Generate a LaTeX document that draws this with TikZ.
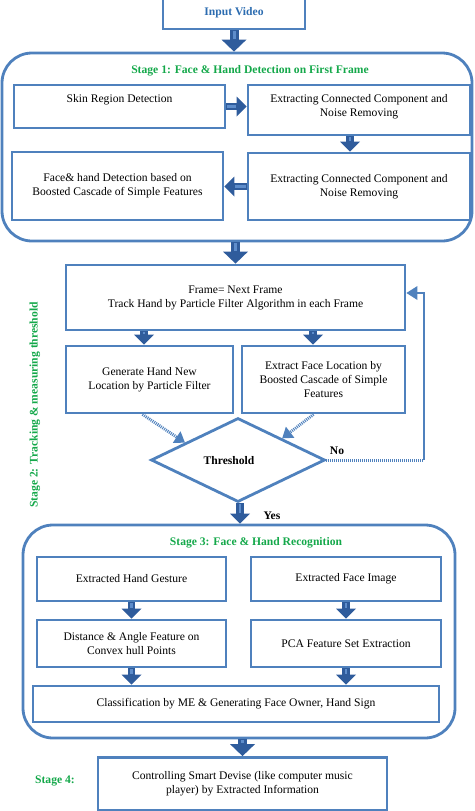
\documentclass[tikz,border=0pt]{standalone}
\usepackage{fontspec}
\setmainfont{Liberation Serif}
\usetikzlibrary{shapes.geometric,arrows.meta,calc}
\definecolor{boxblue}{HTML}{4F81BD}
\definecolor{arrowdark}{HTML}{2F5C9C}
\definecolor{arrowlight}{HTML}{5E8DCB}
\definecolor{stagegreen}{HTML}{14A84A}
\definecolor{inblue}{HTML}{2C6CB0}
\begin{document}
\begin{tikzpicture}[x=1pt,y=-1pt,
  box/.style={draw=boxblue, line width=2.8pt, rectangle, inner sep=2pt, align=center,
    font=\fontsize{11.6}{14}\selectfont, text=black},
  stagebox/.style={draw=boxblue, line width=2.8pt, rectangle, rounded corners=30pt, inner sep=0pt},
  stagetitle/.style={font=\bfseries\fontsize{11.6}{14}\selectfont, text=stagegreen, inner sep=0pt},
  lbl/.style={font=\bfseries\fontsize{11.6}{14}\selectfont, text=black, inner sep=0pt},
  barrow/.style={draw=arrowdark, line width=9pt, -{Triangle[width=25pt,length=12pt,line width=0pt]},
    postaction={draw=arrowlight, line width=3pt, shorten >=13pt, shorten <=1pt, -}},
  sarrow/.style={draw=arrowdark, line width=7.5pt, -{Triangle[width=20pt,length=10pt,line width=0pt]},
    postaction={draw=arrowlight, line width=2.5pt, shorten >=11pt, shorten <=1pt, -}},
  hatch/.style={draw=boxblue, line width=3pt, dash pattern=on 1pt off 1pt},
  hatcharrow/.style={hatch, -{Triangle[width=14pt,length=10pt,line width=0pt]}},
  fbline/.style={draw=boxblue, line width=2.5pt}
]
\useasboundingbox (0,0) rectangle (474,811);

% Input
\node[box, minimum width=142pt, minimum height=32pt, font=\bfseries\fontsize{11.6}{14}\selectfont, text=inblue] (inp) at (234,13) {Input Video};

% Stage 1
\node[stagebox, minimum width=470pt, minimum height=188pt] (s1) at (237,147) {};
\node[stagetitle] (t1) at (250,71) {Stage 1: Face \& Hand Detection on First Frame};
\node[box, minimum width=211pt, minimum height=43pt, text depth=16pt] (skin) at (119.5,106.5) {Skin Region Detection};
\node[box, minimum width=222pt, minimum height=50pt, text depth=10pt] (cc1) at (359,110) {Extracting Connected Component and\\Noise Removing};
\node[box, minimum width=222pt, minimum height=67pt] (cc2) at (359,186.5) {Extracting Connected Component and\\Noise Removing};
\node[box, minimum width=211pt, minimum height=68pt] (face) at (117.5,186) {Face\& hand Detection based on\\Boosted Cascade of Simple Features};

% Stage 2
\node[box, minimum width=339pt, minimum height=65pt] (frame) at (235.5,297.5) {Frame= Next Frame\\Track Hand by Particle Filter Algorithm in each Frame};
\node[box, minimum width=167pt, minimum height=67pt] (gen) at (149.5,379.5) {Generate Hand New\\Location by Particle Filter};
\node[box, minimum width=163pt, minimum height=67pt] (ext) at (323.5,379.5) {Extract Face Location by\\Boosted Cascade of Simple\\Features};
\node[draw=boxblue, line width=2.8pt, diamond, inner sep=0pt, minimum width=174pt, minimum height=84pt] (th) at (238,460) {};
\node[lbl] (thl) at (229,461) {Threshold};
\node[lbl] (no) at (337,451) {No};
\node[lbl] (yes) at (272,516) {Yes};
\node[stagetitle, rotate=90] (t2) at (35,405) {Stage 2: Tracking \& measuring threshold};
\coordinate (fbc) at (424,460);
\coordinate (fbt) at (424,293);

% Stage 3
\node[stagebox, minimum width=432pt, minimum height=213pt] (s3) at (239,631.5) {};
\node[stagetitle] (t3) at (256,543) {Stage 3: Face \& Hand Recognition};
\node[box, minimum width=189pt, minimum height=44pt] (hg) at (131.5,579) {Extracted Hand Gesture};
\node[box, minimum width=190pt, minimum height=44pt] (fi) at (346,579) {Extracted Face Image};
\node[box, minimum width=189pt, minimum height=47pt] (dist) at (131.5,643.5) {Distance \& Angle Feature on\\Convex hull Points};
\node[box, minimum width=190pt, minimum height=47pt] (pca) at (346,643.5) {PCA Feature Set Extraction};
\node[box, minimum width=406pt, minimum height=36pt] (cls) at (236,704) {Classification by ME \& Generating Face Owner, Hand Sign};

% Stage 4
\node[stagetitle] (t4) at (55,781) {Stage 4:};
\node[box, minimum width=289pt, minimum height=53pt] (s4) at (242.5,784) {Controlling Smart Devise (like computer music\\player) by Extracted Information};

% Connectors
\draw[barrow] (inp.south) -- (inp.south |- s1.north);
\draw[sarrow] (skin.east) -- (skin.east -| cc1.west);
\draw[sarrow] ([xshift=-9pt]cc1.south) -- ([xshift=-9pt]cc2.north);
\draw[sarrow] (cc2.west) -- (cc2.west -| face.east);
\draw[barrow] (s1.south -| frame.north) -- (frame.north);
\draw[sarrow] ([xshift=-5.5pt]gen.north |- frame.south) -- ([xshift=-5.5pt]gen.north);
\draw[sarrow] ([xshift=-10.5pt]ext.north |- frame.south) -- ([xshift=-10.5pt]ext.north);
\draw[hatcharrow] ([xshift=-7pt]gen.south) -- ($(th.west)!0.4!(th.north)$);
\draw[hatcharrow] ([xshift=-10pt]ext.south) -- ($(th.north)!0.5!(th.east)$);
\draw[hatch] (th.east) -- (fbc);
\draw[fbline, -{Triangle[width=14pt,length=11pt,line width=0pt]}] (fbc) -- (fbt) -- (fbt -| frame.east);
\draw[sarrow] ([xshift=2pt]th.south) -- ([xshift=2pt]th.south |- s3.north);
\draw[sarrow] (hg.south) -- (dist.north);
\draw[sarrow] (fi.south) -- (pca.north);
\draw[sarrow] (dist.south) -- (dist.south |- cls.north);
\draw[sarrow] (pca.south) -- (pca.south |- cls.north);
\draw[barrow] (s4.north |- s3.south) -- (s4.north);
\end{tikzpicture}
\end{document}
